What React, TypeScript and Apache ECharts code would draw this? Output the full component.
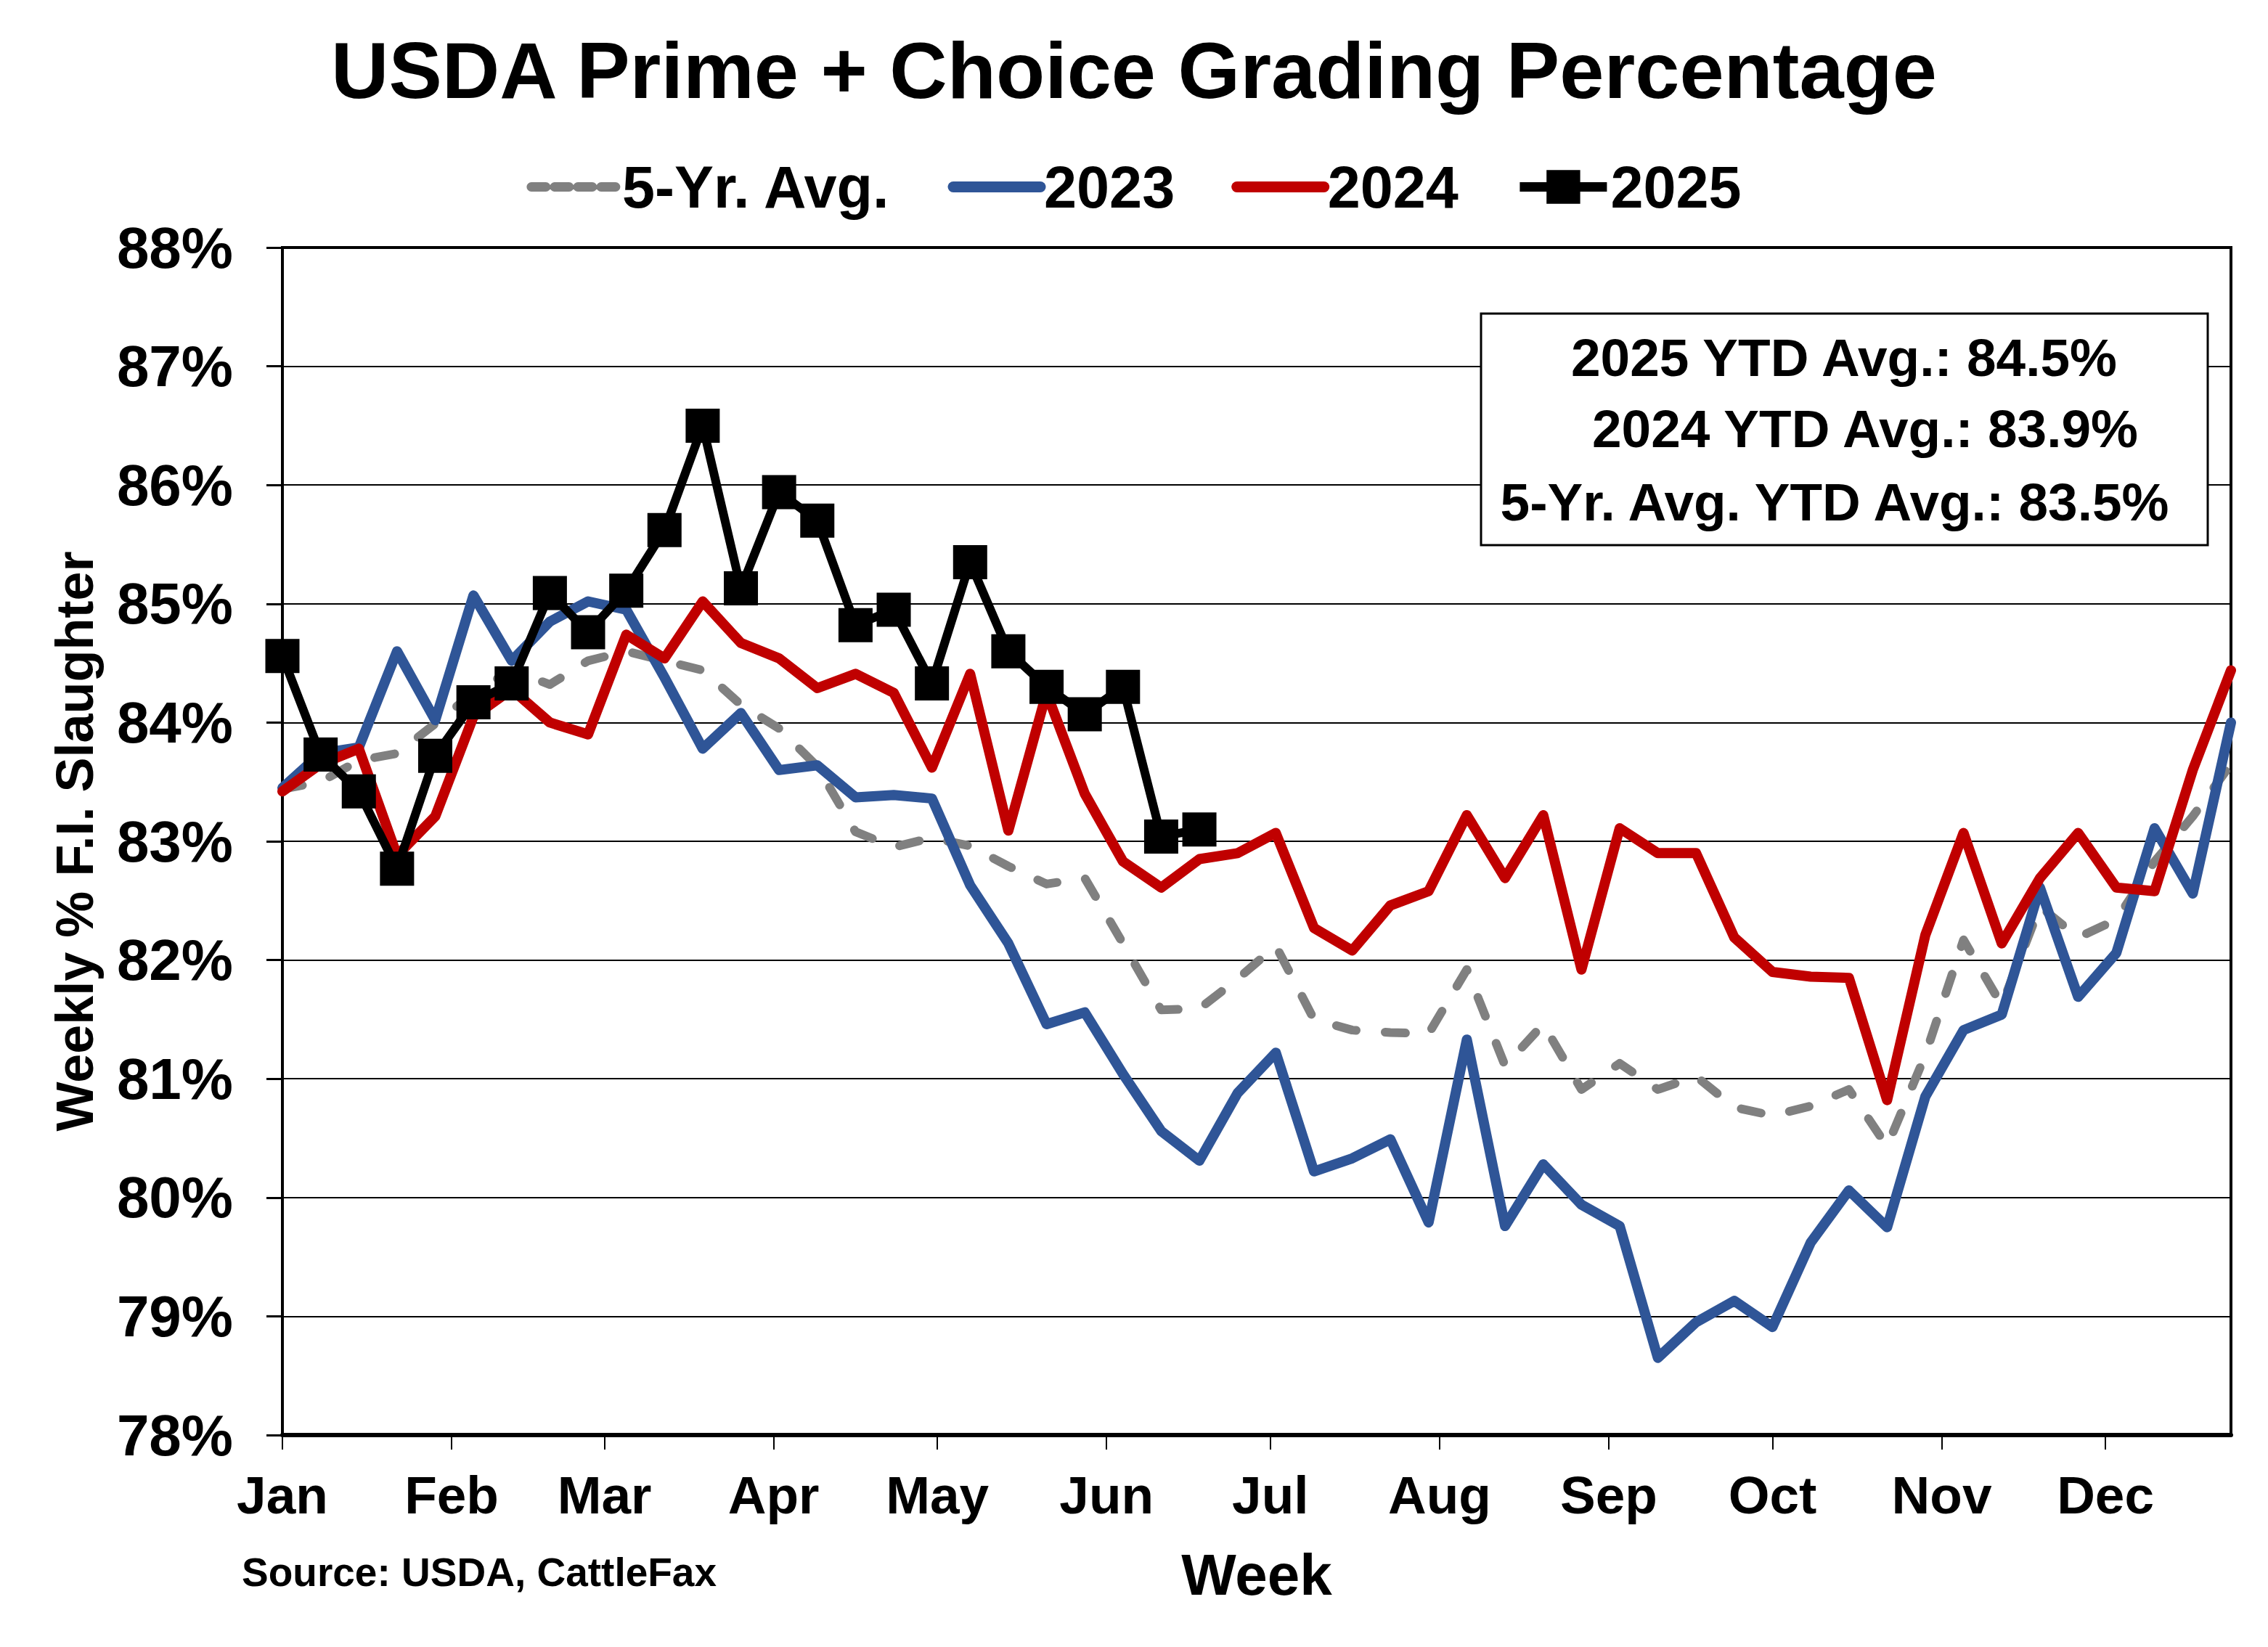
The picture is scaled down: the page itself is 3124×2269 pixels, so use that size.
import React, { useEffect, useRef } from "react";
import * as echarts from "echarts";

const FONT = "'Liberation Sans', Arial, Helvetica, sans-serif";

// Month tick positions on the week axis (day of year / 7)
const monthLabels = ["Jan", "Feb", "Mar", "Apr", "May", "Jun", "Jul", "Aug", "Sep", "Oct", "Nov", "Dec"];
const monthStartDays = [0, 31, 59, 90, 120, 151, 181, 212, 243, 273, 304, 334];
const monthTickWeeks = monthStartDays.map((d) => d / 7);

const yTickMin = 78;
const yTickMax = 88;
const yTickStep = 1;

const seriesNames = ["5-Yr. Avg.", "2023", "2024", "2025"];

// Weekly Prime + Choice grading percentage, week 1..52
const fiveYrAvg = [
  83.44, 83.5, 83.68, 83.74, 83.99, 84.25, 84.44, 84.32, 84.52, 84.6, 84.52, 84.44, 84.15,
  83.95, 83.63, 83.08, 82.95, 83.03, 82.96, 82.79, 82.64, 82.69, 82.14, 81.58, 81.59, 81.84,
  82.12, 81.5, 81.41, 81.39, 81.38, 81.92, 81.11, 81.46, 80.91, 81.13, 80.91, 81.02, 80.76,
  80.69, 80.77, 80.91, 80.43, 81.2, 82.17, 81.62, 82.45, 82.19, 82.34, 82.83, 83.21, 83.65,
];

const y2023 = [
  83.45, 83.74, 83.79, 84.6, 84.02, 85.07, 84.52, 84.85, 85.02, 84.95, 84.38, 83.78, 84.08,
  83.6, 83.64, 83.37, 83.39, 83.36, 82.63, 82.14, 81.46, 81.56, 81.04, 80.56, 80.31, 80.88,
  81.22, 80.22, 80.33, 80.49, 79.79, 81.33, 79.76, 80.28, 79.94, 79.76, 78.65, 78.95, 79.13,
  78.91, 79.62, 80.06, 79.75, 80.85, 81.41, 81.54, 82.61, 81.69, 82.06, 83.11, 82.56, 84.0,
];

const y2024 = [
  83.42, 83.65, 83.78, 82.88, 83.21, 84.05, 84.28, 84.0, 83.9, 84.74, 84.54, 85.02, 84.67,
  84.54, 84.29, 84.41, 84.25, 83.62, 84.41, 83.09, 84.25, 83.4, 82.83, 82.61, 82.85, 82.9,
  83.07, 82.27, 82.08, 82.46, 82.58, 83.22, 82.69, 83.22, 81.92, 83.11, 82.9, 82.9, 82.19,
  81.9, 81.86, 81.85, 80.82, 82.21, 83.07, 82.14, 82.69, 83.07, 82.61, 82.58, 83.6, 84.44,
];

const y2025 = [
  84.56, 83.73, 83.42, 82.77, 83.72, 84.17, 84.33, 85.09, 84.76, 85.11, 85.62, 86.5, 85.13,
  85.94, 85.7, 84.82, 84.95, 84.33, 85.35, 84.6, 84.3, 84.07, 84.3, 83.04, 83.1,
];

const ytdLines = [
  "2025 YTD Avg.: 84.5%",
  "2024 YTD Avg.: 83.9%",
  "5-Yr. Avg. YTD Avg.: 83.5%",
];

const toPoints = (vals: number[]) => vals.map((v, i) => [i, v]);

const GRAY = "#808080";
const BLUE = "#2F5597";
const RED = "#C00000";
const BLACK = "#000000";
const DASH = [28, 40];

export default function App() {
  const ref = useRef<HTMLDivElement>(null);

  useEffect(() => {
    if (!ref.current) return;
    const chart = echarts.init(ref.current, null, { renderer: "svg" });

    const boldText = (size: number) => ({
      fontFamily: FONT,
      fontWeight: "bold" as const,
      fontSize: size,
      color: "#000",
    });

    const ytdText = (i: number, x: number, y: number) => ({
      type: "text",
      z: 101,
      x,
      y,
      style: {
        text: ytdLines[i],
        fontFamily: FONT,
        fontWeight: "bold",
        fontSize: 73,
        fill: "#000",
        align: "center",
        verticalAlign: "middle",
      },
    });

    chart.setOption({
      animation: false,
      backgroundColor: "#ffffff",
      title: {
        text: "USDA Prime + Choice Grading Percentage",
        left: "center",
        top: 36,
        textStyle: boldText(110),
      },
      legend: {
        data: [
          {
            name: seriesNames[0],
            itemStyle: { opacity: 0 },
            lineStyle: { color: GRAY, width: 13, type: [20, 12], cap: "round" },
          },
          {
            name: seriesNames[1],
            itemStyle: { opacity: 0 },
            lineStyle: { color: BLUE, width: 15, cap: "round" },
          },
          {
            name: seriesNames[2],
            itemStyle: { opacity: 0 },
            lineStyle: { color: RED, width: 15, cap: "round" },
          },
          {
            name: seriesNames[3],
            lineStyle: { color: BLACK, width: 13 },
          },
        ],
        top: 212,
        left: "center",
        itemWidth: 120,
        itemHeight: 58,
        itemGap: 78,
        textStyle: boldText(81),
      },
      grid: {
        left: 389,
        right: 51,
        top: 341,
        bottom: 292,
        show: true,
        borderColor: "#000",
        borderWidth: 4,
        backgroundColor: "transparent",
      },
      xAxis: {
        type: "value",
        min: 0,
        max: 51,
        name: "Week",
        nameLocation: "middle",
        nameGap: 152,
        nameTextStyle: boldText(80),
        axisLine: { show: true, onZero: false, lineStyle: { color: "#000", width: 6 } },
        axisTick: {
          show: true,
          customValues: monthTickWeeks,
          length: 20,
          lineStyle: { color: "#000", width: 2 },
        },
        axisLabel: {
          customValues: monthTickWeeks,
          formatter: (v: number) => {
            const idx = monthTickWeeks.findIndex((w) => Math.abs(w - v) < 1e-6);
            return idx >= 0 ? monthLabels[idx] : "";
          },
          margin: 46,
          ...boldText(73),
        },
        splitLine: { show: false },
      },
      yAxis: {
        type: "value",
        min: yTickMin,
        max: yTickMax,
        interval: yTickStep,
        name: "Weekly % F.I. Slaughter",
        nameLocation: "middle",
        nameRotate: 90,
        nameGap: 250,
        nameTextStyle: boldText(72),
        axisLine: { show: true, lineStyle: { color: "#000", width: 4 } },
        axisTick: { show: true, length: 22, lineStyle: { color: "#000", width: 3 } },
        axisLabel: {
          formatter: "{value}%",
          margin: 68,
          ...boldText(80),
        },
        splitLine: { show: true, lineStyle: { color: "#000", width: 2 } },
      },
      series: [
        {
          name: seriesNames[0],
          type: "line",
          data: toPoints(fiveYrAvg),
          symbol: "none",
          z: 2,
          itemStyle: { color: GRAY },
          lineStyle: { color: GRAY, width: 12, type: DASH, cap: "round", join: "round" },
        },
        {
          name: seriesNames[1],
          type: "line",
          data: toPoints(y2023),
          symbol: "none",
          z: 3,
          itemStyle: { color: BLUE },
          lineStyle: { color: BLUE, width: 14, cap: "round", join: "round" },
        },
        {
          name: seriesNames[2],
          type: "line",
          data: toPoints(y2024),
          symbol: "none",
          z: 4,
          itemStyle: { color: RED },
          lineStyle: { color: RED, width: 14, cap: "round", join: "round" },
        },
        {
          name: seriesNames[3],
          type: "line",
          data: toPoints(y2025),
          symbol: "rect",
          symbolSize: 47,
          z: 5,
          itemStyle: { color: BLACK },
          lineStyle: { color: BLACK, width: 12, join: "round" },
        },
      ],
      graphic: [
        {
          type: "rect",
          z: 100,
          shape: { x: 2040, y: 432, width: 1001, height: 319 },
          style: { fill: "#fff", stroke: "#000", lineWidth: 3 },
        },
        ytdText(0, 2540, 492),
        ytdText(1, 2569, 590),
        ytdText(2, 2527, 691),
        {
          type: "text",
          z: 101,
          x: 333,
          y: 2166,
          style: {
            text: "Source: USDA, CattleFax",
            fontFamily: FONT,
            fontWeight: "bold",
            fontSize: 55,
            fill: "#000",
            align: "left",
            verticalAlign: "middle",
          },
        },
      ],
    });

    return () => chart.dispose();
  }, []);

  return (
    <div
      ref={ref}
      style={{
        position: "absolute",
        left: 0,
        top: 0,
        width: 3124,
        height: 2269,
        background: "#fff",
      }}
    />
  );
}
